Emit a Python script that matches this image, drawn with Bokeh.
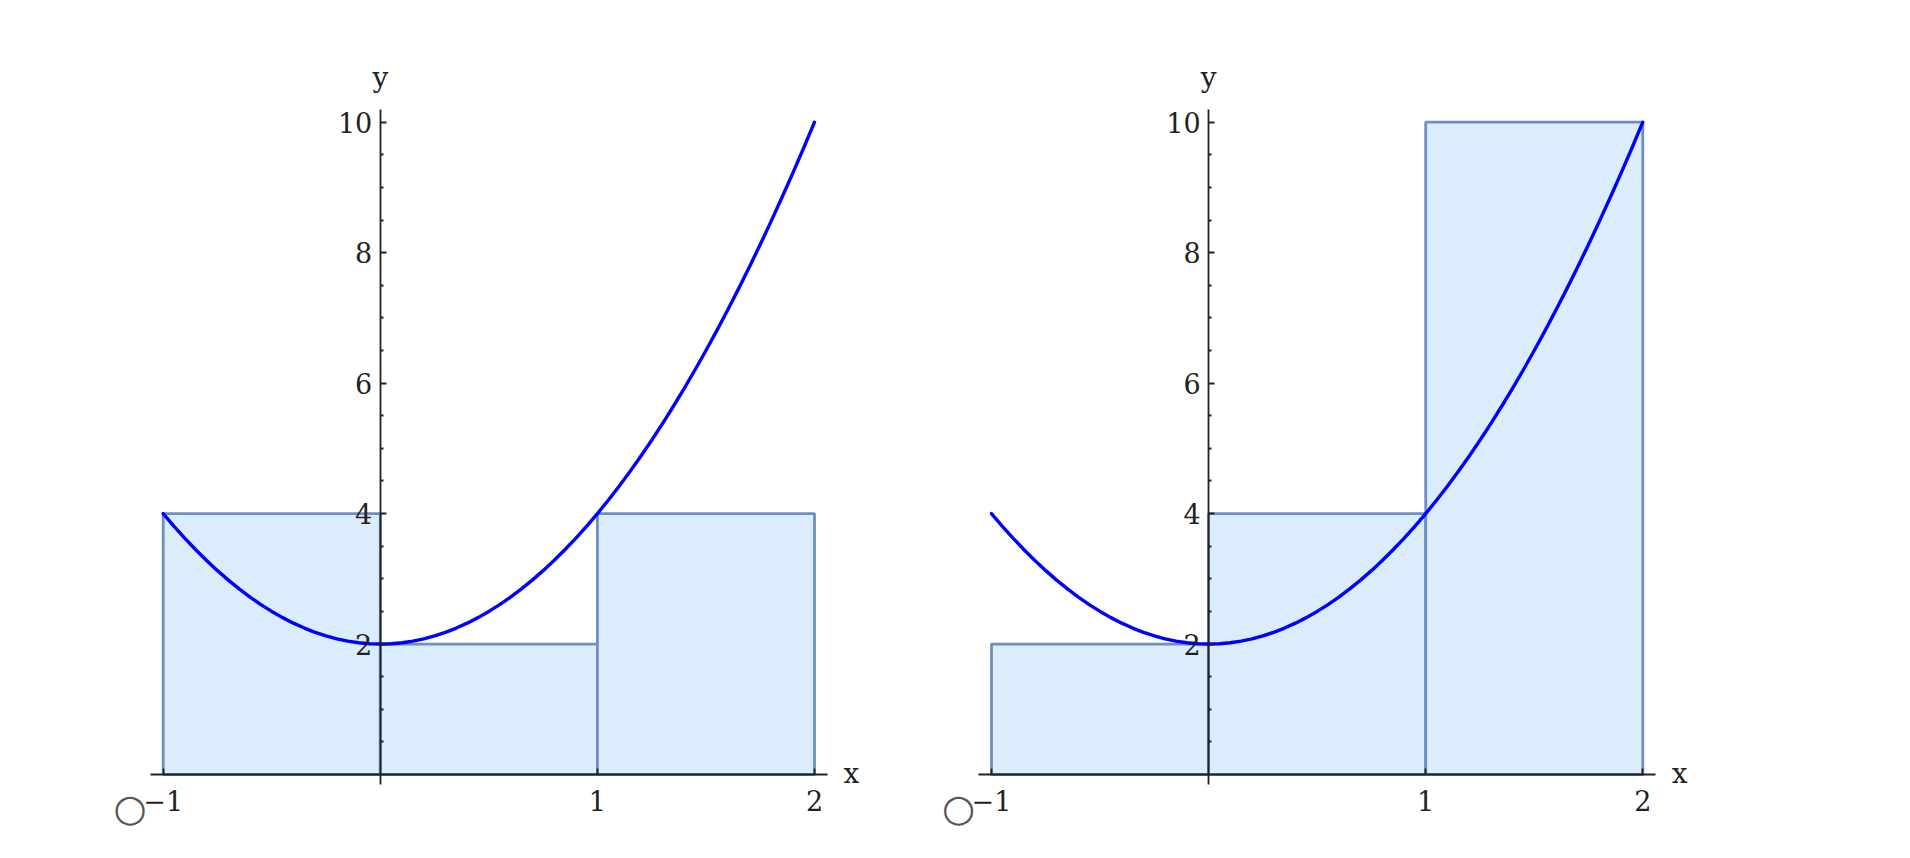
from bokeh.plotting import figure
from bokeh.layouts import row
from bokeh.models import Range1d, FixedTicker, Label
from bokeh.embed import file_html
from bokeh.resources import INLINE

# ---- data ----
curve_x = [-1.00, -0.95, -0.90, -0.85, -0.80, -0.75, -0.70, -0.65, -0.60, -0.55,
           -0.50, -0.45, -0.40, -0.35, -0.30, -0.25, -0.20, -0.15, -0.10, -0.05,
           0.00, 0.05, 0.10, 0.15, 0.20, 0.25, 0.30, 0.35, 0.40, 0.45,
           0.50, 0.55, 0.60, 0.65, 0.70, 0.75, 0.80, 0.85, 0.90, 0.95,
           1.00, 1.05, 1.10, 1.15, 1.20, 1.25, 1.30, 1.35, 1.40, 1.45,
           1.50, 1.55, 1.60, 1.65, 1.70, 1.75, 1.80, 1.85, 1.90, 1.95, 2.00]
curve_y = [4.000, 3.805, 3.620, 3.445, 3.280, 3.125, 2.980, 2.845, 2.720, 2.605,
           2.500, 2.405, 2.320, 2.245, 2.180, 2.125, 2.080, 2.045, 2.020, 2.005,
           2.000, 2.005, 2.020, 2.045, 2.080, 2.125, 2.180, 2.245, 2.320, 2.405,
           2.500, 2.605, 2.720, 2.845, 2.980, 3.125, 3.280, 3.445, 3.620, 3.805,
           4.000, 4.205, 4.420, 4.645, 4.880, 5.125, 5.380, 5.645, 5.920, 6.205,
           6.500, 6.805, 7.120, 7.445, 7.780, 8.125, 8.480, 8.845, 9.220, 9.605, 10.000]
bar_left = [-1, 0, 1]
bar_right = [0, 1, 2]
left_sum_heights = [4, 2, 4]
right_sum_heights = [2, 4, 10]
x_ticks = [-1, 1, 2]
x_tick_labels = {-1: "\u22121", 1: "1", 2: "2"}
y_ticks = [2, 4, 6, 8, 10]
y_minor_ticks = [0.5, 1, 1.5, 2.5, 3, 3.5, 4.5, 5, 5.5, 6.5, 7, 7.5, 8.5, 9, 9.5]
x_axis_extent = (-1.06, 2.06)
y_axis_extent = (-0.16, 10.2)

# ---- layout constants (pixels) ----
PX_X = 217.1
PX_Y = 65.23
FIG_H = 850
BORDER_TOP = 10
FRAME_H = FIG_H - BORDER_TOP
Y0_PX = 774          # y=0 position from top of figure

SERIF = "DejaVu Serif"
INK = "#222222"


def make_panel(heights, border_left, frame_w, border_right, minus1_px):
    x_start = -1 - (minus1_px - border_left) / PX_X
    x_end = x_start + frame_w / PX_X
    y_start = -(FIG_H - Y0_PX) / PX_Y
    y_end = y_start + FRAME_H / PX_Y
    p = figure(frame_width=frame_w, frame_height=FRAME_H,
               x_range=Range1d(x_start, x_end), y_range=Range1d(y_start, y_end),
               output_backend="svg", toolbar_location=None,
               min_border_left=border_left, min_border_right=border_right,
               min_border_top=BORDER_TOP, min_border_bottom=0)
    p.outline_line_color = None
    p.background_fill_color = "white"
    p.border_fill_color = "white"
    p.xgrid.visible = False
    p.ygrid.visible = False

    p.quad(left=bar_left, right=bar_right, bottom=0, top=heights,
           fill_color="#dbedfc", line_color="#6f8fc0", line_width=2.8)
    p.line(curve_x, curve_y, line_color="#0000ff", line_width=3.4,
           line_join="round", line_cap="round")

    for ax in (p.xaxis[0], p.yaxis[0]):
        ax.fixed_location = 0
        ax.axis_line_color = INK
        ax.axis_line_width = 1.8
        ax.major_tick_line_color = INK
        ax.major_tick_line_width = 1.8
        ax.major_tick_in = 6
        ax.major_tick_out = 0
        ax.major_label_text_font = SERIF
        ax.major_label_text_font_size = "27px"
        ax.major_label_text_color = INK

    xa = p.xaxis[0]
    xa.ticker = FixedTicker(ticks=x_ticks)
    xa.major_label_overrides = x_tick_labels
    xa.minor_tick_line_color = None
    xa.bounds = x_axis_extent
    xa.major_label_standoff = 15

    ya = p.yaxis[0]
    ya.ticker = FixedTicker(ticks=y_ticks, minor_ticks=y_minor_ticks)
    ya.minor_tick_in = 3
    ya.minor_tick_out = 0
    ya.minor_tick_line_color = INK
    ya.minor_tick_line_width = 1.8
    ya.bounds = y_axis_extent
    ya.major_label_standoff = 8

    p.add_layout(Label(x=x_axis_extent[1], y=0, x_offset=16, y_offset=1,
                       text="x", text_align="left", text_baseline="middle",
                       text_font=SERIF, text_font_size="28px", text_color=INK))
    p.add_layout(Label(x=0, y=y_axis_extent[1], x_offset=0, y_offset=15,
                       text="y", text_align="center", text_baseline="bottom",
                       text_font=SERIF, text_font_size="28px", text_color=INK))
    p.add_layout(Label(x=x_ticks[0], y=0, x_offset=-33, y_offset=-33,
                       text="\u25cb", text_align="center", text_baseline="middle",
                       text_font="DejaVu Sans", text_font_size="38px", text_color="#555555"))
    return p


left = make_panel(left_sum_heights, border_left=10, frame_w=885, border_right=10,
                  minus1_px=162.7)
right = make_panel(right_sum_heights, border_left=10, frame_w=870, border_right=10,
                   minus1_px=991 - 905)

layout = row(left, right)
open("out.html", "w").write(file_html(layout, INLINE))
